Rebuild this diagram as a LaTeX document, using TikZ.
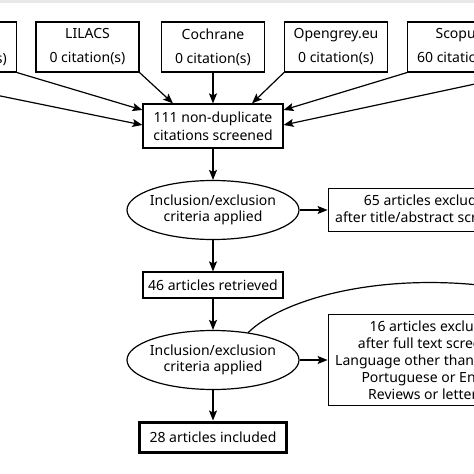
\documentclass[tikz,border=0pt]{standalone}
\usepackage{fontspec}
\setmainfont{Noto Sans}
\usetikzlibrary{positioning}
\usetikzlibrary{shapes.geometric}
\usetikzlibrary{arrows.meta}

\begin{document}
\begin{tikzpicture}
    [
    x=1pt, y=-1pt,
    line width=1.2pt,
    >={Stealth[length=10pt,width=8pt,inset=2pt]},
    source/.style={draw, minimum width=103pt, minimum height=50pt, align=center, font=\fontsize{14}{24}\selectfont},
    stage/.style={draw, minimum width=140pt, align=center, font=\fontsize{14}{18}\selectfont},
    criteria/.style={ellipse, draw, minimum width=172pt, minimum height=59pt, inner xsep=-12pt, inner ysep=0pt, align=center, font=\fontsize{14}{16.5}\selectfont},
    excluded/.style={draw, align=center, inner xsep=7pt, inner ysep=6pt, font=\fontsize{14}{17}\selectfont},
    ]

    \useasboundingbox (0,0) rectangle (474,474);
    \clip (0,0) rectangle (474,474);
    \fill[gray!18] (0,0) rectangle (474,2.5);

    % sources
    \node[source] (src_cochrane) at (213,47) {Cochrane\\0 citation(s)};
    \node[source, on grid, left = 125.5pt of src_cochrane] (src_lilacs) {LILACS\\0 citation(s)};
    \node[source, on grid, left = 122.5pt of src_lilacs] (src_pubmed) {PubMed\\51 citation(s)};
    \node[source, on grid, right = 123pt of src_cochrane] (src_opengrey) {Opengrey.eu\\0 citation(s)};
    \node[source, on grid, right = 123pt of src_opengrey] (src_scopus) {Scopus\\60 citation(s)};
    \coordinate (src_far_left) at (-117,72);
    \coordinate (src_far_right) at (531,72);

    % screening column
    \node[stage, minimum height=44pt] (box_screened) at (213,126) {111 non-duplicate\\citations screened};
    \node[criteria, on grid, below = 84pt of box_screened] (crit_title) {Inclusion/exclusion\\criteria applied};
    \node[stage, on grid, minimum height=26pt, below = 75pt of crit_title] (box_retrieved) {46 articles retrieved};
    \node[criteria, on grid, below = 75pt of box_retrieved] (crit_full) {Inclusion/exclusion\\criteria applied};
    \node[stage, on grid, minimum width=147pt, minimum height=30pt, line width=3pt, below = 77pt of crit_full] (box_included) {28 articles included};

    % exclusions
    \node[excluded, right = 28pt of crit_title] (excl_title)
    {65 articles excluded\\after title/abstract screening};
    \node[excluded, right = 28pt of crit_full] (excl_full)
    {16 articles excluded\\after full text screening\\Language other than Spanish,\hspace*{54pt}\\Portuguese or English\hspace*{26pt}\\Reviews or letters\hspace*{16pt}};
    \coordinate (loop_end) at (560,300);

    \draw[->] (src_pubmed.south east) -- ([yshift=16pt]box_screened.west);
    \draw[->] (src_far_left) -- ([yshift=1pt]box_screened.west);
    \draw[->] (src_lilacs.south east) -- ([xshift=-40pt]box_screened.north);
    \draw[->] (src_cochrane) -- (box_screened);
    \draw[->] (src_opengrey.south west) -- ([xshift=39pt]box_screened.north);
    \draw[->] (src_scopus.south west) -- ([yshift=16pt]box_screened.east);
    \draw[->] (src_far_right) -- ([yshift=1pt]box_screened.east);

    \draw[->] (box_screened) -- (crit_title);
    \draw[->] (crit_title) -- (excl_title);
    \draw[->] (crit_title) -- (box_retrieved);
    \draw[->] (box_retrieved) -- (crit_full);
    \draw[->] (crit_full) -- (excl_full);
    \draw[->] (crit_full) -- (box_included);
    \draw (crit_full.38) .. controls (290,292) and (420,262) .. (loop_end);
\end{tikzpicture}
\end{document}
